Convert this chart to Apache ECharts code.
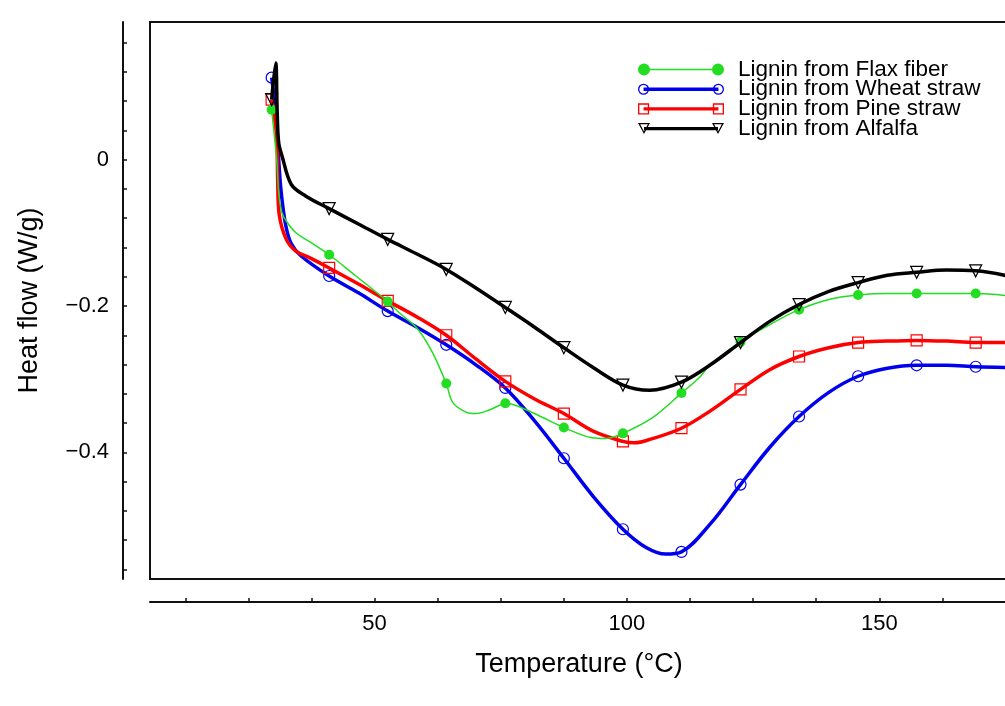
<!DOCTYPE html>
<html>
<head>
    <meta http-equiv="Content-Type" content="text/html; charset=UTF-8">
    <title>Heat flow of lignins</title>
    <script type="text/javascript" src="https://cdn.jsdelivr.net/npm/echarts@6/dist/echarts.min.js"></script>
    <style>
        html, body { margin: 0; padding: 0; background: #fff; }
        #view { width: 1005px; height: 706px; }
    </style>
</head>
<body>
<div id="view"></div>
<script type="text/javascript">

    // temperatures where the markers sit on every curve
    var markerTemps = [29.6, 41.0, 52.6, 64.2, 75.9, 87.5, 99.2, 110.8, 122.5, 134.1, 145.8, 157.4, 169.1];

    // [temperature, heat flow]
    var flax = [[29.6, 0.068], [30.6, 0.0], [31.0, -0.045], [31.6, -0.072], [32.5, -0.084], [34.4, -0.100],
        [37.1, -0.112], [41.0, -0.130], [46.3, -0.159], [52.6, -0.194], [55.0, -0.210], [58.6, -0.232],
        [61.5, -0.264], [64.2, -0.306], [65.5, -0.332], [68.1, -0.345], [70.0, -0.347], [72.0, -0.344],
        [74.7, -0.336], [75.9, -0.333], [78.0, -0.336], [82.6, -0.350], [87.5, -0.366], [93.1, -0.380],
        [95.8, -0.381], [99.2, -0.374], [105.0, -0.353], [110.8, -0.319], [114.3, -0.298], [116.4, -0.281],
        [122.5, -0.249], [128.4, -0.225], [134.1, -0.205], [140.0, -0.191], [145.8, -0.185], [151.6, -0.183],
        [157.4, -0.183], [163.3, -0.183], [169.1, -0.183], [175.5, -0.186]];

    var wheat = [[29.6, 0.112], [30.5, 0.060], [31.0, 0.0], [31.5, -0.045], [32.4, -0.090], [33.5, -0.115],
        [35.5, -0.132], [41.0, -0.159], [46.8, -0.182], [52.6, -0.207], [58.4, -0.229], [64.2, -0.253],
        [70.0, -0.280], [75.9, -0.312], [81.7, -0.357], [87.5, -0.408], [93.3, -0.460], [99.2, -0.505],
        [103.8, -0.530], [107.7, -0.539], [110.8, -0.536], [116.6, -0.497], [122.5, -0.444], [128.3, -0.393],
        [134.1, -0.351], [140.0, -0.318], [145.8, -0.296], [151.6, -0.285], [157.4, -0.281], [163.3, -0.281],
        [169.1, -0.283], [175.5, -0.284]];

    var pine = [[29.6, 0.082], [30.6, 0.030], [30.8, -0.030], [31.1, -0.075], [32.5, -0.109], [34.4, -0.125],
        [37.1, -0.134], [41.0, -0.148], [46.8, -0.170], [52.6, -0.193], [58.4, -0.215], [64.2, -0.240],
        [70.0, -0.272], [75.9, -0.303], [81.7, -0.327], [87.5, -0.347], [93.3, -0.371], [99.2, -0.385],
        [101.5, -0.387], [104.7, -0.382], [110.8, -0.367], [116.6, -0.343], [122.5, -0.314], [128.3, -0.287],
        [134.1, -0.269], [140.0, -0.257], [145.8, -0.250], [151.6, -0.248], [157.4, -0.247], [163.3, -0.248],
        [169.1, -0.250], [175.5, -0.250]];

    var alfalfa = [[29.6, 0.082], [30.4, 0.132], [30.7, 0.065], [31.0, 0.023], [31.7, 0.004], [33.5, -0.034],
        [36.4, -0.050], [41.0, -0.067], [46.8, -0.088], [52.6, -0.109], [58.4, -0.129], [64.2, -0.150],
        [70.0, -0.175], [75.9, -0.202], [81.7, -0.229], [87.5, -0.257], [93.3, -0.284], [99.2, -0.308],
        [104.5, -0.315], [110.8, -0.304], [116.6, -0.280], [122.5, -0.250], [128.3, -0.221], [134.1, -0.198],
        [140.0, -0.180], [145.8, -0.168], [151.6, -0.158], [157.4, -0.154], [163.3, -0.151], [169.1, -0.152],
        [175.5, -0.159]];

    var seriesNames = ['Lignin from Flax fiber', 'Lignin from Wheat straw', 'Lignin from Pine straw', 'Lignin from Alfalfa'];

    // tick labels
    var xTicks = [12.5, 25, 37.5, 50, 62.5, 75, 87.5, 100, 112.5, 125, 137.5, 150, 162.5, 175];
    var xLabels = [50, 100, 150];
    var yTicks = [-0.56, -0.52, -0.48, -0.44, -0.4, -0.36, -0.32, -0.28, -0.24, -0.2, -0.16, -0.12, -0.08, -0.04, 0, 0.04, 0.08, 0.12, 0.16];
    var yLabels = [-0.4, -0.2, 0];

    var font = '"Liberation Sans", Arial, Helvetica, sans-serif';

    // only marker temperatures get a symbol
    function withMarkers(points) {
        return points.map(function (p) {
            if (markerTemps.indexOf(p[0]) >= 0) return { value: p };
            return { value: p, symbol: 'none' };
        });
    }

    // legend icons: line with a marker at each end (hollow ones are rings)
    var iconFlax = 'path://M0,6a6,6 0 1,1 12,0a6,6 0 1,1 -12,0ZM6,5.2L80,5.2L80,6.8L6,6.8ZM74,6a6,6 0 1,1 12,0a6,6 0 1,1 -12,0Z';
    var iconWheat = 'path://M0.5,6a5.5,5.5 0 1,1 11,0a5.5,5.5 0 1,1 -11,0ZM1.8,6a4.2,4.2 0 1,0 8.4,0a4.2,4.2 0 1,0 -8.4,0Z' +
        'M6,4.3L80,4.3L80,7.7L6,7.7Z' +
        'M74.5,6a5.5,5.5 0 1,1 11,0a5.5,5.5 0 1,1 -11,0ZM75.8,6a4.2,4.2 0 1,0 8.4,0a4.2,4.2 0 1,0 -8.4,0Z';
    var iconPine = 'path://M0.5,0.5L11.5,0.5L11.5,11.5L0.5,11.5ZM1.8,1.8L1.8,10.2L10.2,10.2L10.2,1.8Z' +
        'M6,4.3L80,4.3L80,7.7L6,7.7Z' +
        'M74.5,0.5L85.5,0.5L85.5,11.5L74.5,11.5ZM75.8,1.8L75.8,10.2L84.2,10.2L84.2,1.8Z';
    var iconAlfalfa = 'path://M0,0L12,0L6,11ZM2.1,1.2L6,8.4L9.9,1.2Z' +
        'M6,3.8L80,3.8L80,7.2L6,7.2Z' +
        'M74,0L86,0L80,11ZM76.1,1.2L80,8.4L83.9,1.2Z';

    var myChart = echarts.init(document.getElementById('view'), null, { renderer: 'canvas' });

    var option = {
        animation: false,
        backgroundColor: '#fff',
        textStyle: { fontFamily: font },
        grid: {
            left: 150, top: 22, width: 858, height: 557,
            outerBoundsMode: 'none',
            containLabel: false,
            show: true, borderColor: '#111', borderWidth: 2, backgroundColor: 'transparent'
        },
        legend: {
            orient: 'vertical',
            left: 633, top: 53,
            itemWidth: 86, itemHeight: 12, itemGap: -3.3,
            selectedMode: false,
            textStyle: { fontSize: 22.5, lineHeight: 18.7, color: '#000', fontFamily: font, padding: [0, 0, 0, 9] },
            data: [
                { name: seriesNames[0], icon: iconFlax, itemStyle: { color: '#22dd22', borderWidth: 0 } },
                { name: seriesNames[1], icon: iconWheat, itemStyle: { color: '#0000ee', borderWidth: 0 } },
                { name: seriesNames[2], icon: iconPine, itemStyle: { color: '#ff0000', borderWidth: 0 } },
                { name: seriesNames[3], icon: iconAlfalfa, itemStyle: { color: '#000000', borderWidth: 0 } }
            ]
        },
        xAxis: {
            type: 'value',
            min: 5.5, max: 175.5,
            position: 'bottom',
            offset: 23,
            name: 'Temperature (\u00B0C)',
            nameLocation: 'middle',
            nameGap: 49,
            nameTextStyle: { fontSize: 27, color: '#000', fontFamily: font },
            axisLine: { show: true, onZero: false, lineStyle: { color: '#111', width: 2 } },
            axisTick: { show: true, inside: true, length: 4, customValues: xTicks, lineStyle: { color: '#111', width: 1.5 } },
            axisLabel: { customValues: xLabels, fontSize: 22, margin: 11, color: '#000', fontFamily: font },
            splitLine: { show: false }
        },
        yAxis: {
            type: 'value',
            min: -0.573, max: 0.188,
            position: 'left',
            offset: 27,
            name: 'Heat flow (W/g)',
            nameLocation: 'middle',
            nameGap: 80,
            nameTextStyle: { fontSize: 27, color: '#000', fontFamily: font },
            axisLine: { show: true, onZero: false, lineStyle: { color: '#111', width: 2 } },
            axisTick: { show: true, inside: true, length: 4, customValues: yTicks, lineStyle: { color: '#111', width: 1.5 } },
            axisLabel: {
                customValues: yLabels, fontSize: 22, margin: 14, color: '#000', fontFamily: font,
                formatter: function (v) {
                    if (Math.abs(v) < 1e-9) return '0';
                    return (v < 0 ? '\u2212' : '') + Math.abs(v);
                }
            },
            splitLine: { show: false }
        },
        series: [
            {
                name: seriesNames[0], type: 'line', z: 4,
                smooth: 0.35,
                showSymbol: true, showAllSymbol: true,
                symbol: 'circle', symbolSize: 10,
                itemStyle: { color: '#22dd22', borderWidth: 0 },
                lineStyle: { color: '#22dd22', width: 1.5 },
                emphasis: { disabled: true },
                data: withMarkers(flax)
            },
            {
                name: seriesNames[1], type: 'line', z: 2,
                smooth: 0.35,
                showSymbol: true, showAllSymbol: true,
                symbol: 'circle', symbolSize: 11,
                itemStyle: { color: 'transparent', borderColor: '#0000ee', borderWidth: 1.2 },
                lineStyle: { color: '#0000ee', width: 3.5 },
                emphasis: { disabled: true },
                data: withMarkers(wheat)
            },
            {
                name: seriesNames[2], type: 'line', z: 3,
                smooth: 0.35,
                showSymbol: true, showAllSymbol: true,
                symbol: 'rect', symbolSize: 11,
                itemStyle: { color: 'transparent', borderColor: '#ff0000', borderWidth: 1.2 },
                lineStyle: { color: '#ff0000', width: 3.5 },
                emphasis: { disabled: true },
                data: withMarkers(pine)
            },
            {
                name: seriesNames[3], type: 'line', z: 5,
                smooth: 0.35,
                showSymbol: true, showAllSymbol: true,
                symbol: 'triangle', symbolRotate: 180, symbolSize: 12,
                itemStyle: { color: 'transparent', borderColor: '#000', borderWidth: 1.2 },
                lineStyle: { color: '#000', width: 3.5 },
                emphasis: { disabled: true },
                data: withMarkers(alfalfa)
            }
        ]
    };
    myChart.setOption(option);
</script>
</body>
</html>
